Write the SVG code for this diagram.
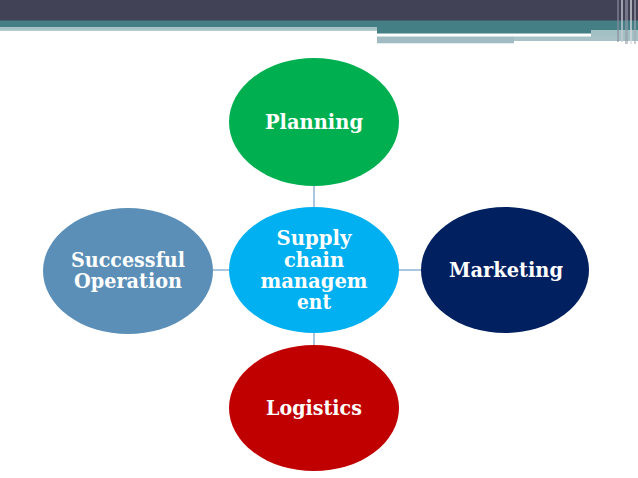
<svg xmlns="http://www.w3.org/2000/svg" width="638" height="478" viewBox="0 0 638 478">
<style>
.lbl{font-family:"DejaVu Serif","Liberation Serif",serif;font-weight:bold;font-size:20px;fill:#ffffff;text-anchor:middle}
.con{stroke:#8fb3d3;stroke-width:1.5;fill:none}
</style>
<rect width="638" height="478" fill="#ffffff"/>
<g id="header">
<rect x="0" y="0" width="638" height="21" fill="#414256"/>
<rect x="0" y="20.5" width="638" height="7" fill="#447f86"/>
<rect x="0" y="27.3" width="377" height="3.5" fill="#a8c3c8"/>
<rect x="377" y="27" width="261" height="6.5" fill="#447f86"/>
<rect x="591" y="30" width="47" height="11" fill="#a3c0c4"/>
<rect x="377" y="36.5" width="137" height="6.8" fill="#a0bcc2"/>
<rect x="514" y="36.5" width="104" height="4.5" fill="#a8c3c8"/>
<rect x="617" y="0" width="2" height="42" fill="#8a8c9c" opacity="0.6"/>
<rect x="621" y="0" width="2" height="42" fill="#c8cad4" opacity="0.7"/>
<rect x="625" y="0" width="3" height="44" fill="#9a9cab" opacity="0.6"/>
<rect x="630" y="0" width="2" height="44" fill="#d6d8de" opacity="0.7"/>
<rect x="634" y="0" width="2" height="44" fill="#a7a9b6" opacity="0.6"/>
</g>
<g id="connectors">
<line class="con" x1="314" y1="186" x2="314" y2="207"/>
<line class="con" x1="314" y1="333" x2="314" y2="345"/>
<line class="con" x1="213" y1="270" x2="229" y2="270"/>
<line class="con" x1="399" y1="270" x2="421" y2="270"/>
</g>
<g id="planning">
<ellipse cx="314" cy="122" rx="85" ry="64" fill="#00b050"/>
<text class="lbl" x="314" y="129" textLength="98" lengthAdjust="spacingAndGlyphs" fill="#eef8f0">Planning</text>
</g>
<g id="successful-operation">
<ellipse cx="128" cy="271" rx="85" ry="63" fill="#5b8fb8"/>
<text class="lbl" x="128" y="267" textLength="114" lengthAdjust="spacingAndGlyphs">Successful</text>
<text class="lbl" x="128" y="288" textLength="108" lengthAdjust="spacingAndGlyphs">Operation</text>
</g>
<g id="marketing">
<ellipse cx="505" cy="270" rx="84" ry="63" fill="#002060"/>
<text class="lbl" x="506" y="277" textLength="114" lengthAdjust="spacingAndGlyphs">Marketing</text>
</g>
<g id="logistics">
<ellipse cx="314" cy="408" rx="85" ry="63" fill="#c00000"/>
<text class="lbl" x="314" y="415" textLength="96" lengthAdjust="spacingAndGlyphs">Logistics</text>
</g>
<g id="supply-chain">
<ellipse cx="314" cy="270" rx="85" ry="63" fill="#00b0f0"/>
<text class="lbl" x="314" y="245" textLength="75" lengthAdjust="spacingAndGlyphs">Supply</text>
<text class="lbl" x="314" y="267" textLength="60" lengthAdjust="spacingAndGlyphs">chain</text>
<text class="lbl" x="314" y="288" textLength="107" lengthAdjust="spacingAndGlyphs">managem</text>
<text class="lbl" x="314" y="309" textLength="34" lengthAdjust="spacingAndGlyphs">ent</text>
</g>
</svg>
